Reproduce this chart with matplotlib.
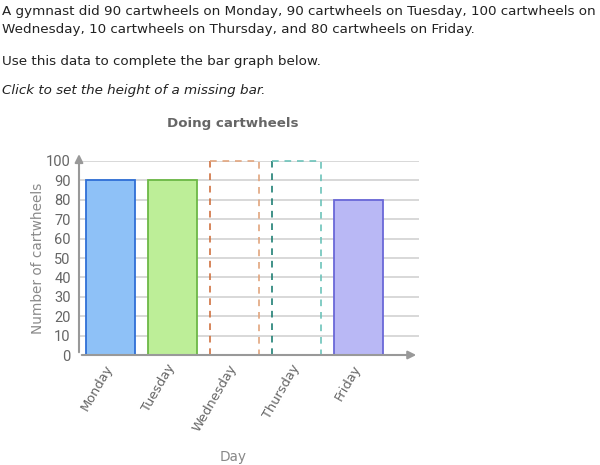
import matplotlib
matplotlib.use("Agg")
import matplotlib.pyplot as plt
import matplotlib.transforms as mtrans

# data
days = ["Monday", "Tuesday", "Wednesday", "Thursday", "Friday"]
cartwheels = [90, 90, None, None, 80]  # None = bar still missing
y_ticks = list(range(0, 101, 10))

fills = ["#8ec1f7", "#bdee98", None, None, "#b9b8f5"]
edges = ["#2f6fd6", "#6cb845", None, None, "#6a68d8"]
dash_dark = {2: "#d0713f", 3: "#1f7f74"}
dash_light = {2: "#e2a57e", 3: "#6cc3ba"}

W, H = 600, 465
fig = plt.figure(figsize=(W / 100, H / 100), dpi=100)

para = "#222222"
fs = 9.7
fig.text(2 / W, 1 - 12 / H, "A gymnast did 90 cartwheels on Monday, 90 cartwheels on Tuesday, 100 cartwheels on",
         fontsize=fs, color=para, va="center", ha="left")
fig.text(2 / W, 1 - 29 / H, "Wednesday, 10 cartwheels on Thursday, and 80 cartwheels on Friday.",
         fontsize=fs, color=para, va="center", ha="left")
fig.text(2 / W, 1 - 61 / H, "Use this data to complete the bar graph below.",
         fontsize=fs, color=para, va="center", ha="left")
fig.text(2 / W, 1 - 90 / H, "Click to set the height of a missing bar.",
         fontsize=fs, color=para, va="center", ha="left", style="italic")

ax = fig.add_axes([79 / W, 1 - 355 / H, 340 / W, 194 / H])
ymax = 100
ax.set_ylim(0, ymax)
ax.set_xlim(-0.508, 4.975)

grey = "#666666"
for t in y_ticks[1:]:
    ax.axhline(t, color="#d6d6d6", lw=1.3, zorder=0)

bw = 0.8
for i, v in enumerate(cartwheels):
    if v is not None:
        ax.bar(i, v, width=bw, color=fills[i], edgecolor=edges[i], linewidth=1.3, zorder=2)
    else:
        x0, x1 = i - bw / 2, i + bw / 2
        ax.plot([x0, x0], [0, ymax], ls=(0, (4, 3.5)), color=dash_dark[i], lw=1.2,
                zorder=3, clip_on=False)
        ax.plot([x0, x1, x1], [ymax, ymax, 0], ls=(0, (4, 3.5)), color=dash_light[i], lw=1.2,
                zorder=3, clip_on=False)

for s in ax.spines.values():
    s.set_visible(False)

axis_c = "#999999"
ax.annotate("", xy=(0, 1.05), xytext=(0, 0), xycoords="axes fraction",
            arrowprops=dict(arrowstyle="-|>", color=axis_c, lw=1.5, mutation_scale=12),
            annotation_clip=False)
ax.annotate("", xy=(1.0, 0), xytext=(0, 0), xycoords="axes fraction",
            arrowprops=dict(arrowstyle="-|>", color=axis_c, lw=1.5, mutation_scale=12),
            annotation_clip=False)

ax.set_yticks(y_ticks)
ax.set_yticklabels([str(t) for t in y_ticks], family="Roboto", fontsize=10.5, color=grey)
ax.tick_params(axis="y", length=0, pad=6)
ax.set_xticks(range(len(days)))
ax.set_xticklabels(days, rotation=60, ha="right", rotation_mode="anchor",
                   fontsize=9.4, color=grey)
ax.tick_params(axis="x", length=0, pad=5)
shift = mtrans.ScaledTranslation(-6 / 100, 0, fig.dpi_scale_trans)
for lab in ax.get_xticklabels():
    lab.set_transform(lab.get_transform() + shift)

fig.text(233 / W, 1 - 123 / H, "Doing cartwheels", fontsize=9.6, fontweight="bold",
         color=grey, ha="center", va="center")
ax.set_ylabel("Number of cartwheels", fontsize=9.8, color="#8a8a8a", labelpad=0.5)
fig.text(233 / W, 1 - 457 / H, "Day", fontsize=9.8, color="#888888", ha="center", va="center")

fig.savefig("out.png", dpi=100)
